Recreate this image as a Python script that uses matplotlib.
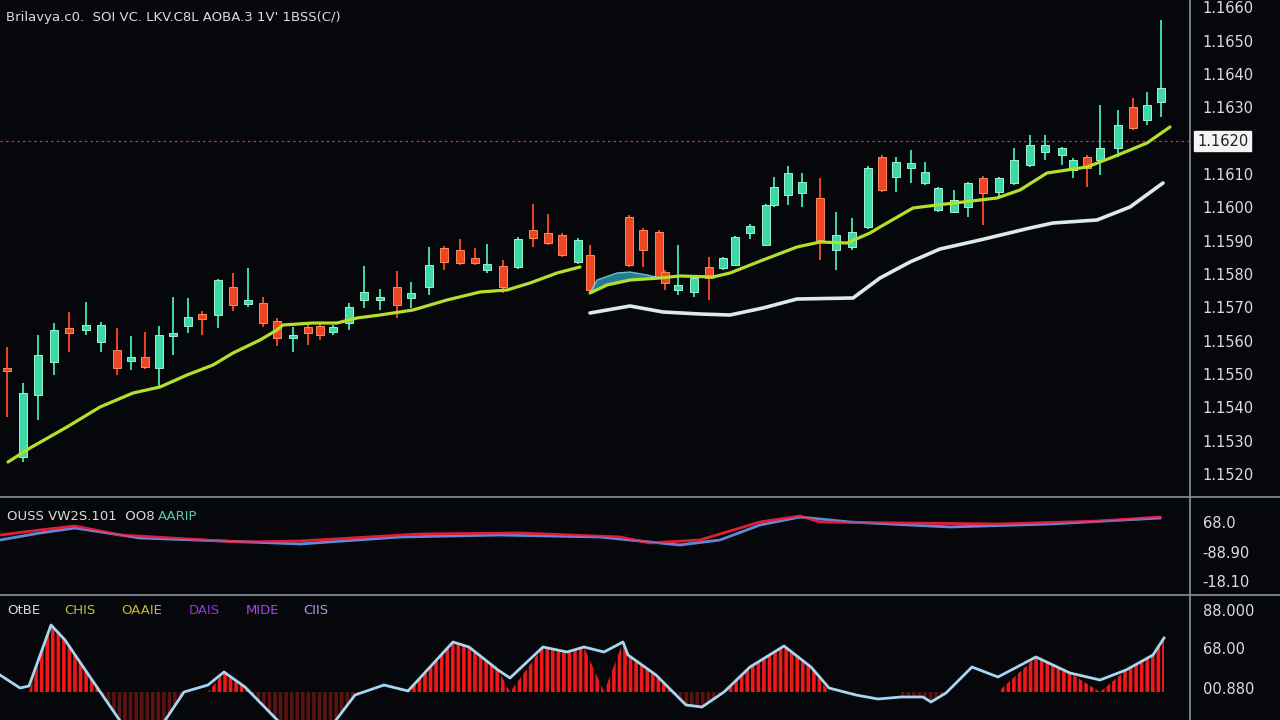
import matplotlib
matplotlib.use("Agg")
import matplotlib.pyplot as plt
import numpy as np
from matplotlib.lines import Line2D
import matplotlib.transforms as mtransforms

# ---------------- data ----------------
t = [7, 23, 38, 54, 69, 86, 101, 117, 131, 145, 159, 173, 188, 202, 218, 233, 248, 263, 277, 293,
     308, 320, 333, 349, 364, 380, 397, 411, 429, 444, 460, 475, 487, 503, 518, 533, 548, 562, 578, 590,
     629, 643, 659, 665, 678, 694, 709, 723, 735, 750, 766, 774, 788, 802, 820, 836, 852, 868, 882, 896,
     911, 925, 938, 954, 968, 983, 999, 1014, 1030, 1045, 1062, 1073, 1087, 1100, 1118, 1133, 1147, 1161]
opens = [1.15518, 1.15251, 1.15437, 1.15536, 1.15638, 1.15632, 1.15596, 1.15572, 1.15539, 1.15551,
         1.15518, 1.15614, 1.15644, 1.15680, 1.15677, 1.15761, 1.15710, 1.15713, 1.15659, 1.15608,
         1.15641, 1.15644, 1.15626, 1.15653, 1.15722, 1.15722, 1.15761, 1.15728, 1.15761, 1.15878,
         1.15872, 1.15848, 1.15812, 1.15824, 1.15821, 1.15932, 1.15923, 1.15917, 1.15836, 1.15857,
         1.15971, 1.15932, 1.15926, 1.15806, 1.15752, 1.15746, 1.15821, 1.15818, 1.15827, 1.15923,
         1.15887, 1.16007, 1.16037, 1.16043, 1.16028, 1.15872, 1.15881, 1.15941, 1.16151, 1.16091,
         1.16118, 1.16073, 1.15992, 1.15986, 1.16001, 1.16088, 1.16046, 1.16073, 1.16127, 1.16166,
         1.16157, 1.16112, 1.16151, 1.16142, 1.16178, 1.16301, 1.16262, 1.16316]
highs = [1.15581, 1.15473, 1.15617, 1.15653, 1.15686, 1.15716, 1.15656, 1.15638, 1.15614, 1.15626,
         1.15644, 1.15731, 1.15728, 1.15689, 1.15785, 1.15803, 1.15818, 1.15731, 1.15668, 1.15641,
         1.15647, 1.15650, 1.15647, 1.15713, 1.15824, 1.15755, 1.15809, 1.15776, 1.15881, 1.15884,
         1.15905, 1.15878, 1.15890, 1.15842, 1.15911, 1.16010, 1.15980, 1.15923, 1.15908, 1.15887,
         1.15977, 1.15938, 1.15932, 1.15812, 1.15887, 1.15791, 1.15851, 1.15851, 1.15914, 1.15950,
         1.16010, 1.16091, 1.16124, 1.16103, 1.16088, 1.15986, 1.15968, 1.16124, 1.16157, 1.16151,
         1.16172, 1.16136, 1.16061, 1.16052, 1.16076, 1.16094, 1.16091, 1.16178, 1.16217, 1.16217,
         1.16181, 1.16148, 1.16157, 1.16307, 1.16292, 1.16328, 1.16346, 1.16562]
lows = [1.15371, 1.15236, 1.15362, 1.15497, 1.15566, 1.15617, 1.15566, 1.15497, 1.15512, 1.15515,
        1.15461, 1.15557, 1.15623, 1.15617, 1.15638, 1.15689, 1.15701, 1.15641, 1.15584, 1.15566,
        1.15587, 1.15602, 1.15617, 1.15632, 1.15698, 1.15692, 1.15668, 1.15698, 1.15737, 1.15812,
        1.15827, 1.15827, 1.15803, 1.15743, 1.15815, 1.15881, 1.15887, 1.15851, 1.15830, 1.15746,
        1.15821, 1.15821, 1.15785, 1.15752, 1.15737, 1.15731, 1.15722, 1.15812, 1.15824, 1.15905,
        1.15884, 1.16001, 1.16007, 1.16001, 1.15842, 1.15812, 1.15872, 1.15935, 1.16046, 1.16046,
        1.16073, 1.16067, 1.15986, 1.15983, 1.15971, 1.15947, 1.16028, 1.16067, 1.16121, 1.16142,
        1.16127, 1.16088, 1.16061, 1.16097, 1.16151, 1.16232, 1.16247, 1.16271]
closes = [1.15509, 1.15443, 1.15557, 1.15632, 1.15623, 1.15647, 1.15647, 1.15518, 1.15551, 1.15521,
          1.15617, 1.15623, 1.15671, 1.15665, 1.15782, 1.15707, 1.15722, 1.15653, 1.15608, 1.15617,
          1.15623, 1.15617, 1.15641, 1.15701, 1.15746, 1.15731, 1.15707, 1.15743, 1.15827, 1.15836,
          1.15833, 1.15833, 1.15830, 1.15761, 1.15905, 1.15908, 1.15893, 1.15857, 1.15902, 1.15752,
          1.15827, 1.15872, 1.15791, 1.15773, 1.15767, 1.15788, 1.15788, 1.15848, 1.15911, 1.15944,
          1.16007, 1.16061, 1.16103, 1.16076, 1.15902, 1.15917, 1.15926, 1.16118, 1.16052, 1.16136,
          1.16133, 1.16106, 1.16058, 1.16022, 1.16073, 1.16043, 1.16088, 1.16142, 1.16187, 1.16187,
          1.16178, 1.16142, 1.16118, 1.16178, 1.16247, 1.16238, 1.16307, 1.16358]

# moving average (two segments)
ma1_t = [8, 30, 67, 100, 133, 160, 187, 213, 233, 260, 277, 283, 313, 337, 357, 380, 413, 447, 480, 507, 530, 557, 580]
ma1_v = [1.15236, 1.15278, 1.15341, 1.15401, 1.15443, 1.15461, 1.15497, 1.15527, 1.15563, 1.15602, 1.15632,
         1.15647, 1.15653, 1.15653, 1.15668, 1.15677, 1.15692, 1.15722, 1.15746, 1.15752, 1.15773, 1.15803, 1.15821]
ma2_t = [590, 607, 630, 660, 680, 713, 730, 763, 797, 820, 847, 870, 880, 913, 937, 963, 997, 1020, 1047,
         1067, 1087, 1113, 1147, 1170]
ma2_v = [1.15743, 1.15767, 1.15782, 1.15788, 1.15794, 1.15791, 1.15803, 1.15842, 1.15881, 1.15896, 1.15893,
         1.15923, 1.15941, 1.15998, 1.16007, 1.16016, 1.16028, 1.16052, 1.16103, 1.16112, 1.16121, 1.16151,
         1.16193, 1.16241]
ribbon_t = [590, 597, 617, 630, 647, 660]
ribbon_v = [1.15743, 1.15782, 1.15803, 1.15806, 1.15797, 1.15788]

slow_t = [590, 630, 663, 700, 730, 763, 797, 853, 880, 910, 940, 980, 1030, 1053, 1097, 1130, 1163]
slow_v = [1.15683, 1.15704, 1.15686, 1.15680, 1.15677, 1.15698, 1.15725, 1.15728, 1.15788, 1.15836,
          1.15875, 1.15902, 1.15938, 1.15953, 1.15962, 1.16001, 1.16073]

last_price = 1.16199
price_ticks = [1.1520, 1.1530, 1.1540, 1.1550, 1.1560, 1.1570, 1.1580, 1.1590, 1.1600, 1.1610,
               1.1630, 1.1640, 1.1650, 1.1660]

# panel 2 oscillator lines
p2_blue_t = [0, 40, 75, 140, 250, 300, 400, 500, 600, 680, 720, 760, 800, 850, 950, 1050, 1160]
p2_blue_v = [-5, 2, 7, -3, -7, -9, -2, 0, -2, -10, -5, 10, 18, 13, 8, 11, 17]
p2_red_t = [0, 40, 75, 120, 240, 300, 420, 520, 620, 650, 700, 760, 800, 820, 900, 1000, 1100, 1160]
p2_red_v = [0, 5, 9, 0, -7, -6, 1, 2, -2, -8, -5, 13, 19, 13, 12, 11, 14, 18]
p2_ticks = [13, -17, -46]
p2_labels = ["68.0", "-88.90", "-18.10"]

# panel 3 oscillator
p3_t = [0, 20, 29, 51, 65, 90, 125, 160, 184, 208, 224, 245, 285, 330, 355, 384, 408, 453, 469, 498, 510,
        543, 567, 584, 604, 623, 628, 656, 686, 702, 724, 750, 784, 811, 829, 856, 878, 901, 923, 931, 946,
        972, 998, 1036, 1070, 1100, 1126, 1153, 1164]
p3_v = [17, 4, 6, 67, 52, 15, -36, -36, 0, 7, 20, 5, -36, -36, -3, 7, 1, 50, 45, 22, 14,
        45, 40, 45, 40, 50, 37, 17, -13, -15, 0, 25, 46, 25, 4, -3, -7, -5, -5, -10, -1,
        25, 15, 35, 19, 12, 22, 37, 54]
hist_pos_segments = [(37, 96), (220, 245), (429, 500), (520, 590), (623, 656), (740, 816), (1015, 1077), (1107, 1166)]
hist_neg_segments = [(0, 22), (100, 175), (258, 355), (650, 860), (880, 946)]
p3_ticks = [82, 44, 4]
p3_labels = ["88.000", "68.00", "00.880"]

title_text = "Brilavya.c0.  SOI VC. LKV.C8L AOBA.3 1V' 1BSS(C/)"

# ---------------- style ----------------
BG = "#05070b"
GRID = "#8a9098"
TXT = "#dcdcdc"
plt.rcParams['font.family'] = ['DejaVu Sans']

W, H = 1280, 720
fig = plt.figure(figsize=(12.8, 7.2), dpi=100, facecolor=BG)

xr = 1190 / W
ax1 = fig.add_axes([0, (H - 497) / H, xr, 497 / H], facecolor=BG)
ax2 = fig.add_axes([0, (H - 595) / H, xr, 98 / H], facecolor=BG, sharex=ax1)
ax3 = fig.add_axes([0, 0, xr, 125 / H], facecolor=BG, sharex=ax1)

for ax in (ax1, ax2, ax3):
    for s in ("top", "bottom", "left"):
        ax.spines[s].set_visible(False)
    ax.spines["right"].set_color(GRID)
    ax.spines["right"].set_linewidth(1.2)
    ax.yaxis.tick_right()
    ax.tick_params(axis="y", length=0, pad=9, labelcolor=TXT, labelsize=10.5)
    ax.tick_params(axis="x", bottom=False, labelbottom=False)
    ax.set_xlim(0, 1190)

# ---- main panel ----
o = np.array(opens); c = np.array(closes); hi = np.array(highs); lo = np.array(lows)
bull = c >= o
body_col = np.where(bull, "#3ed8a6", "#ec4622")
edge_col = np.where(bull, "#9af5d2", "#ff8a5a")
ax1.vlines(t, lo, hi, colors=body_col, linewidth=1.4, zorder=3)
body_h = np.where(np.abs(c - o) < 0.00004, np.sign(c - o + 1e-12) * 0.00004, c - o)
ax1.bar(t, body_h, bottom=o, width=8, color=body_col,
        edgecolor=edge_col, linewidth=0.7, zorder=4)

# ribbon
poly_x = list(ribbon_t) + [x for x in ma2_t if x <= 660][::-1]
poly_y = list(ribbon_v) + [v for x, v in zip(ma2_t, ma2_v) if x <= 660][::-1]
ax1.fill(poly_x, poly_y, color="#2b8fae", alpha=0.85, zorder=5, edgecolor="#7fd6e0", linewidth=1.0)

ax1.plot(ma1_t, ma1_v, color="#b4e02a", lw=2.3, zorder=6, solid_capstyle="round")
ax1.plot(ma2_t, ma2_v, color="#b4e02a", lw=2.3, zorder=6, solid_capstyle="round")
ax1.plot(slow_t, slow_v, color="#dceae8", lw=2.6, zorder=6, solid_capstyle="round")

ax1.axhline(last_price, color="#c8384a", lw=0.9, ls=(0, (2, 2.5)), zorder=2)
ax1.set_ylim(1.15131, 1.16622)
ax1.set_yticks(price_ticks)
ax1.set_yticklabels([f"{v:.4f}" for v in price_ticks])
trans = mtransforms.blended_transform_factory(ax1.transAxes, ax1.transData)
ax1.text(1.006, last_price, f"{last_price:.4f}", transform=trans, ha="left", va="center",
         fontsize=10.5, color="#202020",
         bbox=dict(boxstyle="square,pad=0.2", facecolor="#f4f4f4", edgecolor="#f4f4f4"))
ax1.text(0.005, 0.964, title_text, transform=ax1.transAxes, ha="left", va="center",
         fontsize=9.5, color=TXT)

# ---- panel 2 ----
ax2.plot(p2_blue_t, p2_blue_v, color="#3e9ede", lw=2.0, zorder=3)
ax2.plot(p2_red_t, p2_red_v, color="#e21e36", lw=2.0, zorder=4)
ax2.plot(p2_blue_t, np.array(p2_blue_v), color="#9a6ad0", lw=0.9, alpha=0.8, zorder=5)
ax2.set_ylim(-60, 38)
ax2.set_yticks(p2_ticks)
ax2.set_yticklabels(p2_labels)
ax2.text(0.006, 0.80, "OUSS VW2S.101  OO8", transform=ax2.transAxes, ha="left", va="center",
         fontsize=9.5, color=TXT)
ax2.text(0.133, 0.80, "AARIP", transform=ax2.transAxes, ha="left", va="center",
         fontsize=9.5, color="#5cc8a0")

# ---- panel 3 ----
plt.rcParams['hatch.linewidth'] = 2.6
tt = np.array(p3_t); vv = np.array(p3_v)
pos_mask = np.zeros(len(tt), bool)
for a, b in hist_pos_segments:
    pos_mask |= (tt >= a) & (tt <= b)
neg_mask = np.zeros(len(tt), bool)
for a, b in hist_neg_segments:
    neg_mask |= (tt >= a) & (tt <= b)
ax3.fill_between(tt, 0, vv, where=pos_mask & (vv > 0), interpolate=True,
                 facecolor="none", edgecolor="#f01818", hatch="|||", linewidth=0, zorder=2)
ax3.fill_between(tt, 0, vv, where=neg_mask & (vv < 0), interpolate=True,
                 facecolor="none", edgecolor="#5a1410", hatch="|||", linewidth=0, zorder=2)
ax3.plot(tt, vv, color="#a6d6f0", lw=2.0, zorder=4)
ax3.set_ylim(-28, 97)
ax3.set_yticks(p3_ticks)
ax3.set_yticklabels(p3_labels)
labels3 = [("OtBE", "#d8d8d8"), ("CHIS", "#b4c828"), ("OAAIE", "#c8b82a"),
           ("DAIS", "#9a34d8"), ("MIDE", "#a848e8"), ("CIIS", "#a898e8")]
xpos = 0.006
for s, col in labels3:
    ax3.text(xpos, 0.88, s, transform=ax3.transAxes, ha="left", va="center",
             fontsize=9.5, color=col)
    xpos += 0.0085 * len(s) + 0.014

# separators across full width
for yy in (497, 595):
    fig.add_artist(Line2D([0, 1], [(H - yy) / H] * 2, color=GRID, lw=1.2, transform=fig.transFigure))

fig.savefig("out.png", dpi=100, facecolor=BG)
